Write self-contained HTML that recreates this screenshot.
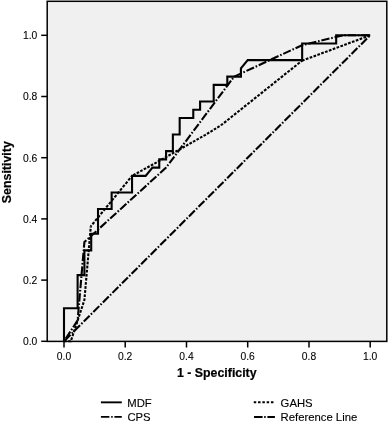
<!DOCTYPE html>
<html><head><meta charset="utf-8"><style>
html,body{margin:0;padding:0;background:#fff;}
svg{display:block;}
text{font-family:"Liberation Sans",Arial,sans-serif;fill:#000;}
</style></head><body>
<svg width="388" height="424" viewBox="0 0 388 424">
<rect x="0" y="0" width="388" height="424" fill="#fff"/>
<rect x="47.2" y="1.3" width="339.6" height="340.1" fill="#f0f0f0" stroke="#000" stroke-width="1.5"/>
<g stroke="#000" stroke-width="1.5"><line x1="41.2" y1="341.3" x2="47.2" y2="341.3"/><line x1="41.2" y1="280.1" x2="47.2" y2="280.1"/><line x1="41.2" y1="218.9" x2="47.2" y2="218.9"/><line x1="41.2" y1="157.7" x2="47.2" y2="157.7"/><line x1="41.2" y1="96.5" x2="47.2" y2="96.5"/><line x1="41.2" y1="35.3" x2="47.2" y2="35.3"/><line x1="64.0" y1="341.4" x2="64.0" y2="347.5"/><line x1="125.2" y1="341.4" x2="125.2" y2="347.5"/><line x1="186.5" y1="341.4" x2="186.5" y2="347.5"/><line x1="247.7" y1="341.4" x2="247.7" y2="347.5"/><line x1="309.0" y1="341.4" x2="309.0" y2="347.5"/><line x1="370.2" y1="341.4" x2="370.2" y2="347.5"/></g>
<g font-size="10.3" text-anchor="end" stroke="#000" stroke-width="0.1"><text x="37.3" y="345.1">0.0</text><text x="37.3" y="283.9">0.2</text><text x="37.3" y="222.7">0.4</text><text x="37.3" y="161.5">0.6</text><text x="37.3" y="100.3">0.8</text><text x="37.3" y="39.1">1.0</text></g>
<g font-size="10.3" text-anchor="middle" stroke="#000" stroke-width="0.1"><text x="64.0" y="359.6">0.0</text><text x="125.2" y="359.6">0.2</text><text x="186.5" y="359.6">0.4</text><text x="247.7" y="359.6">0.6</text><text x="309.0" y="359.6">0.8</text><text x="370.2" y="359.6">1.0</text></g>
<text x="216.8" y="377.3" font-size="12.35" font-weight="bold" text-anchor="middle" stroke="#000" stroke-width="0.2">1 - Specificity</text>
<text transform="translate(11.3,172.2) rotate(-90)" font-size="12.4" font-weight="bold" text-anchor="middle" stroke="#000" stroke-width="0.2">Sensitivity</text>
<g fill="none" stroke="#000" stroke-width="2.1" stroke-linejoin="miter" stroke-linecap="butt">
<polyline points="64.00,341.30 370.20,35.30" stroke-dasharray="8.3 1.8 1.6 1.82" stroke-dashoffset="12.62"/>
<polyline points="64.00,341.30 70.80,341.30 84.41,299.95 90.80,226.30" stroke-dasharray="2.71 1.39" stroke-dashoffset="0.00"/><polyline points="90.80,226.30 132.04,175.89" stroke-dasharray="2.88 1.48" stroke-dashoffset="1.76"/><polyline points="132.04,175.89 160.00,160.50 205.50,134.80 221.00,125.30" stroke-dasharray="2.66 1.37" stroke-dashoffset="2.73"/><polyline points="221.00,125.30 302.00,60.70" stroke-dasharray="2.82 1.45" stroke-dashoffset="0.37"/><polyline points="302.00,60.70 370.20,35.30" stroke-dasharray="2.71 1.39" stroke-dashoffset="0.00"/>
<polyline points="64.00,341.30 77.60,320.30 84.41,242.06 166.07,167.62 234.11,76.65 302.00,45.20 342.98,35.30 370.20,35.30" stroke-dasharray="8.3 1.8 1.6 1.82" stroke-dashoffset="10.24"/>
<polyline points="64.00,341.30 64.00,308.22 77.61,308.22 77.61,275.14 84.41,275.14 84.41,250.33 91.22,250.33 91.22,233.79 98.02,233.79 98.02,208.98 111.63,208.98 111.63,192.44 132.04,192.44 132.04,175.89 145.65,175.89 152.46,167.62 159.26,167.62 159.26,159.35 166.07,159.35 166.07,151.08 172.87,151.08 172.87,134.54 179.68,134.54 179.68,118.00 193.28,118.00 193.28,109.73 200.09,109.73 200.09,101.46 213.70,101.46 213.70,84.92 227.31,84.92 227.31,76.65 240.92,76.65 240.92,68.38 247.72,60.11 302.16,60.11 302.16,43.57 336.18,43.57 336.18,35.30 370.20,35.30"/>
</g>
<g fill="none" stroke="#000" stroke-width="1.9">
<line x1="100.9" y1="402.35" x2="121.8" y2="402.35"/>
<line x1="100.9" y1="416.9" x2="121.8" y2="416.9" stroke-dasharray="8.5 1.8 1.5 1.7 20"/>
<line x1="253.75" y1="402.3" x2="273.6" y2="402.3" stroke-dasharray="2.5 1.8"/>
<line x1="254" y1="417" x2="274.9" y2="417" stroke-dasharray="8.6 1.6 1.5 1.7 20"/>
</g>
<g font-size="11.3" stroke="#000" stroke-width="0.12">
<text x="127.3" y="406.5">MDF</text>
<text x="127.4" y="421.2">CPS</text>
<text x="280.6" y="406.5">GAHS</text>
<text x="280.6" y="421.2">Reference Line</text>
</g>
</svg>
</body></html>
